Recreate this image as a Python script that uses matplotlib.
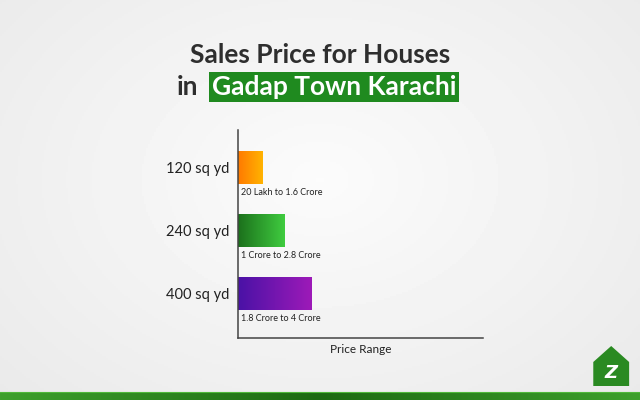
import numpy as np
import matplotlib.pyplot as plt
from matplotlib.patches import Polygon
from matplotlib.colors import LinearSegmentedColormap

# data
sizes = ['120 sq yd', '240 sq yd', '400 sq yd']
bar_len = [1.0, 1.9, 3.0]   # visual bar lengths (axis runs 0..10)
price_labels = ['20 Lakh to 1.6 Crore', '1 Crore to 2.8 Crore', '1.8 Crore to 4 Crore']
grad_colors = [('#ff7a00', '#ffb300'), ('#1c701c', '#3fcc3f'), ('#4a12a6', '#9d1ab8')]

fig = plt.figure(figsize=(6.4, 4.0), dpi=100)

# background: soft gray radial gradient
bg = fig.add_axes([0, 0, 1, 1], zorder=-10)
yy, xx = np.mgrid[0:1:200j, 0:1:320j]
r = np.sqrt(((xx - 0.5) / 0.7) ** 2 + ((yy - 0.55) / 0.8) ** 2)
bg.imshow(0.985 - 0.07 * r, cmap='gray', vmin=0, vmax=1, extent=[0, 1, 0, 1],
          aspect='auto', origin='lower')
# green stripe at the bottom
sx = np.linspace(0, 1, 400)
stripe = 1 - np.abs(sx - 0.5) * 2
gcm = LinearSegmentedColormap.from_list('g', ['#3da02c', '#1d6a12'])
bg.imshow(stripe[None, :], cmap=gcm, extent=[0, 1, 0, 0.02], aspect='auto')
bg.axhline(0.02, color='#4fb83a', lw=0.8)
bg.set_xlim(0, 1)
bg.set_ylim(0, 1)
bg.axis('off')

# title
fig.text(0.5, 0.862, 'Sales Price for Houses', ha='center', va='center',
         fontsize=19, fontweight='bold', family='Lato', color='#2e2e2e')
fig.text(0.309, 0.783, 'in', ha='right', va='center',
         fontsize=19, fontweight='bold', family='Lato', color='#2e2e2e')
fig.text(0.331, 0.783, 'Gadap Town Karachi', ha='left', va='center',
         fontsize=19, fontweight='bold', family='Lato', color='white',
         bbox=dict(boxstyle='square,pad=0.12', fc='#1f8a1f', ec='none'))

# chart
ax = fig.add_axes([0.372, 0.155, 0.383, 0.52])
ax.patch.set_alpha(0)
y = np.arange(len(sizes))
bars = ax.barh(y, bar_len, height=0.53, color='none')
for b, (c1, c2) in zip(bars, grad_colors):
    cm = LinearSegmentedColormap.from_list('bar', [c1, c2])
    x0, y0 = b.get_x(), b.get_y()
    im = ax.imshow(np.linspace(0, 1, 100)[None, :], cmap=cm, aspect='auto',
                   extent=[x0, x0 + b.get_width(), y0 + b.get_height(), y0])
    im.set_clip_path(b)
ax.set_xlim(0, 10)
ax.set_ylim(2.706, -0.595)

for i, lab in enumerate(price_labels):
    ax.text(0.12, y[i] + 0.39, lab, ha='left', va='center', fontsize=6.5,
            family='Lato', color='#222222')

ax.set_yticks(y)
ax.set_yticklabels(sizes, fontsize=10.5, family='Lato', color='#222222')
ax.set_xticks([])
ax.tick_params(axis='y', length=0, pad=6)
ax.set_xlabel('Price Range', fontsize=8.5, family='Lato', color='#222222', labelpad=4)
for s in ['top', 'right']:
    ax.spines[s].set_visible(False)
for s in ['left', 'bottom']:
    ax.spines[s].set_color('#444444')
    ax.spines[s].set_linewidth(1.1)

# logo: green house with a Z
lx, ly = 0.955, 0.075
house = Polygon([[lx - 0.028, ly - 0.04], [lx - 0.028, ly + 0.02], [lx, ly + 0.06],
                 [lx + 0.028, ly + 0.02], [lx + 0.028, ly - 0.04]],
                closed=True, transform=fig.transFigure, fc='#2a8a22', ec='none')
fig.patches.append(house)
fig.text(lx, ly - 0.008, 'Z', ha='center', va='center', fontsize=13,
         fontweight='bold', color='white', family='DejaVu Sans', style='italic')

fig.savefig('out.png', dpi=100)
